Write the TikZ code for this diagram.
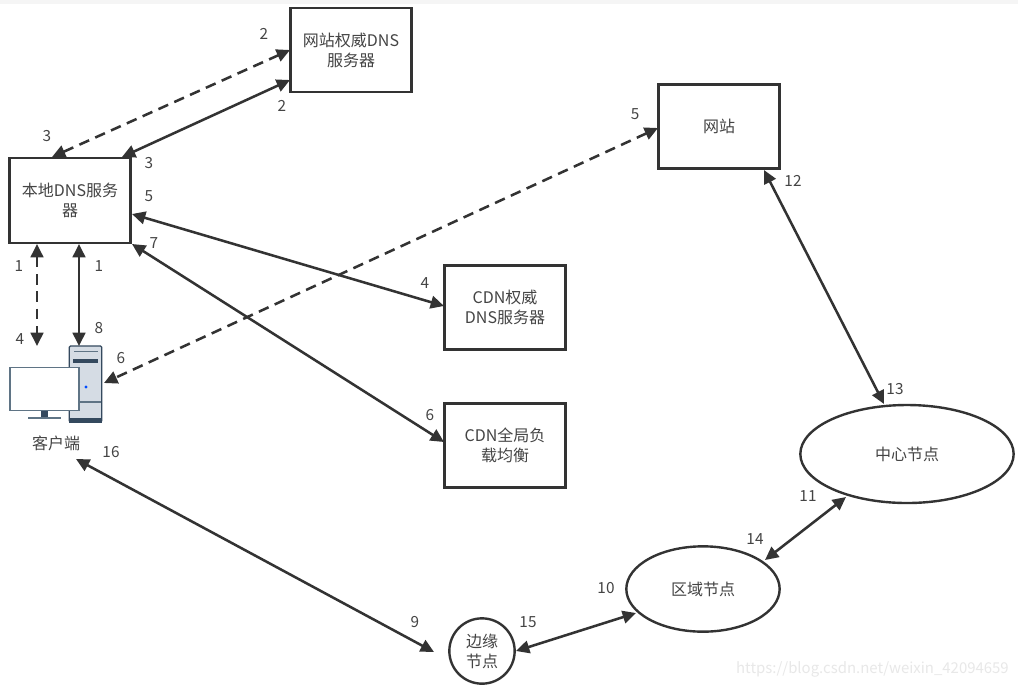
\documentclass[tikz,border=0pt]{standalone}
\usepackage{fontspec}
\setmainfont{Noto Sans CJK SC}
\usetikzlibrary{arrows.meta,shapes.geometric}
\definecolor{ink}{HTML}{333333}
\definecolor{txt}{HTML}{444444}
\definecolor{pcdark}{HTML}{34495E}
\definecolor{pcmid}{HTML}{5F7485}
\definecolor{pcfill}{HTML}{D5DCE4}
\tikzset{
  box/.style={draw=ink,line width=1.8pt,fill=white,minimum width=91pt,minimum height=63pt,inner sep=0pt,align=center,text=txt,font=\fontsize{12}{15}\selectfont},
  oval/.style={ellipse,draw=ink,line width=1.8pt,fill=white,inner sep=0pt,align=center,text=txt,font=\fontsize{12}{15}\selectfont},
  lab/.style={text=txt,inner sep=0pt,font=\fontsize{11.5}{13}\selectfont},
  link/.style={draw=ink,line width=1.9pt,{Triangle[length=10pt,width=9.5pt]}-{Triangle[length=10pt,width=9.5pt]},shorten >=0pt,shorten <=0pt},
  dlink/.style={link,dash pattern=on 8pt off 5pt},
  pc/.style={draw=pcdark,line width=0.9pt}
}
\begin{document}
\begin{tikzpicture}[x=0.75pt,y=-0.75pt]
\useasboundingbox (0,0) rectangle (1018,687);
\fill[white] (0,0) rectangle (1018,687);
\fill[black!4] (0,0) rectangle (1018,4);
% boxes
\node[box] (auth) at (351,50) {网站权威DNS\\服务器};
\node[box,minimum height=64pt] (local) at (70,200.5) {本地DNS服务\\器};
\node[box] (site) at (719,126.5) {网站};
\node[box] (cdnauth) at (505,307.5) {CDN权威\\DNS服务器};
\node[box] (gslb) at (505,445.5) {CDN全局负\\载均衡};
\node[oval,minimum width=160pt,minimum height=73.5pt] (center) at (907,454) {中心节点};
\node[oval,minimum width=115pt,minimum height=64pt] (region) at (703,589) {区域节点};
\node[oval,minimum width=49pt,minimum height=49pt] (edge) at (482,651) {边缘\\节点};
% computer
\node[pc,fill=pcfill,rounded corners=1pt,minimum width=24.5pt,minimum height=57pt,inner sep=0pt] (tower) at (85.5,384) {};
\fill[pcdark] (69,418) rectangle (102,423);
\draw[pcmid,line width=1.2pt] (74,351.5) -- (98,351.5);
\fill[pcdark] (73,358.5) rectangle (98,363);
\draw[pcmid,line width=0.8pt] (70,402) -- (101,402);
\fill[blue!70!cyan] (86,387) circle (1.6);
\fill[pcdark] (41,410) rectangle (48,418);
\draw[pcmid,line width=1.2pt] (28,418) -- (61,418);
\node[draw=pcmid,line width=1.1pt,fill=white,minimum width=51.5pt,minimum height=32pt,inner sep=0pt] (monitor) at (44.5,389) {};
\node[lab,font=\fontsize{12}{14}\selectfont] (client) at (56,443) {客户端};
% connector ends
\coordinate (a1) at (52,157);
\coordinate (a2) at (290,50);
\coordinate (b1) at (122,157);
\coordinate (b2) at (290,80);
\coordinate (c1) at (37,244);
\coordinate (c2) at (37,346);
\coordinate (d1) at (79,244);
\coordinate (d2) at (79,346);
\coordinate (e1) at (132,214);
\coordinate (e2) at (444,306);
\coordinate (f1) at (132,244);
\coordinate (f2) at (444,442);
\coordinate (g1) at (658,128);
\coordinate (g2) at (104,383);
\coordinate (h1) at (764,170);
\coordinate (h2) at (884,404);
\coordinate (i1) at (846,497);
\coordinate (i2) at (765,560);
\coordinate (j1) at (636,613);
\coordinate (j2) at (516,651);
\coordinate (k1) at (76,459);
\coordinate (k2) at (434,652);
\draw[dlink] (a1) -- (a2);
\draw[link] (b1) -- (b2);
\draw[dlink] (c1) -- (c2);
\draw[link] (d1) -- (d2);
\draw[link] (e1) -- (e2);
\draw[link] (f1) -- (f2);
\draw[dlink] (g1) -- (g2);
\draw[link] (h1) -- (h2);
\draw[link] (i1) -- (i2);
\draw[link] (j1) -- (j2);
\draw[link] (k1) -- (k2);
% labels
\node[lab] (l1) at (264,34) {2};
\node[lab] (l2) at (282,106) {2};
\node[lab] (l3) at (47,136) {3};
\node[lab] (l4) at (149,163) {3};
\node[lab] (l5) at (149,196) {5};
\node[lab] (l6) at (154,243) {7};
\node[lab] (l7) at (19,266) {1};
\node[lab] (l8) at (99,266) {1};
\node[lab] (l9) at (20,339) {4};
\node[lab] (l10) at (99,328) {8};
\node[lab] (l11) at (121,358) {6};
\node[lab] (l12) at (635,114) {5};
\node[lab] (l13) at (793,181) {12};
\node[lab] (l14) at (425,283) {4};
\node[lab] (l15) at (430,415) {6};
\node[lab] (l16) at (111,452) {16};
\node[lab] (l17) at (895,389) {13};
\node[lab] (l18) at (808,496) {11};
\node[lab] (l19) at (755,539) {14};
\node[lab] (l20) at (606,588) {10};
\node[lab] (l21) at (528,622) {15};
\node[lab] (l22) at (415,622) {9};
\node[text=black!9,inner sep=0pt,anchor=east,font=\fontsize{11.2}{13}\selectfont] (wm) at (1009,669) {https://blog.csdn.net/weixin\_42094659};
\end{tikzpicture}
\end{document}
